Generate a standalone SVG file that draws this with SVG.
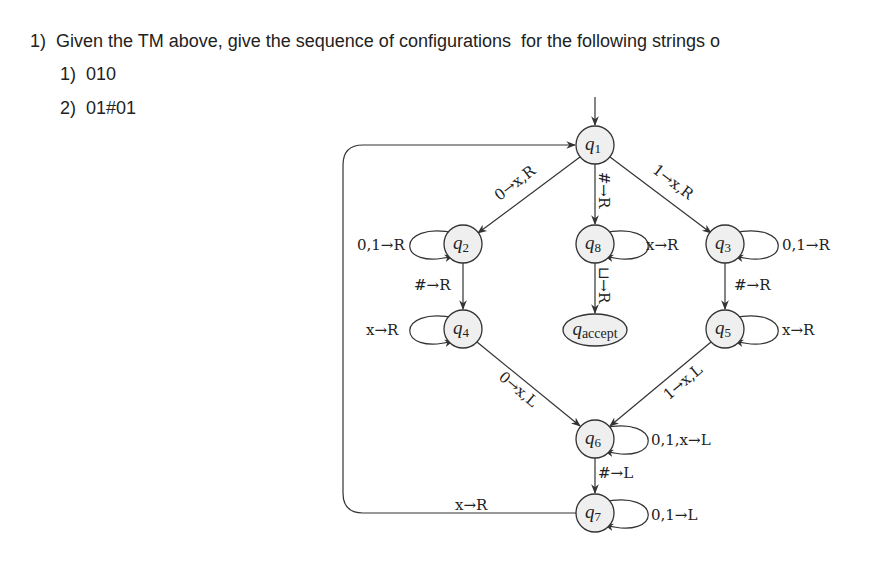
<svg xmlns="http://www.w3.org/2000/svg" width="878" height="569" viewBox="0 0 878 569">
<style>
.n{fill:#efefef;stroke:#333;stroke-width:1.3}
.t{font-family:"DejaVu Serif",serif;font-size:15px;fill:#222}
.s{font-family:"Liberation Serif",serif;font-size:19px;font-style:italic;fill:#222;text-anchor:middle}
.h{font-family:"Liberation Sans",sans-serif;font-size:18px;fill:#222}
.e{fill:none;stroke:#333;stroke-width:1.2;marker-end:url(#a)}
</style>
<defs><marker id="a" viewBox="0 0 10 10" refX="9" refY="5" markerWidth="8" markerHeight="8" orient="auto"><path d="M0,1 L10,5 L0,9 L3,5 Z" fill="#333"/></marker></defs>
<rect width="878" height="569" fill="#fff"/>
<text class="h" x="30" y="47" xml:space="preserve">1)  Given the TM above, give the sequence of configurations  for the following strings o</text>
<text class="h" x="60" y="80" xml:space="preserve">1)  010</text>
<text class="h" x="60" y="114" xml:space="preserve">2)  01#01</text>
<g id="connectors">
<path class="e" d="M595,97 V125"/>
<path class="e" d="M580,157 L478,233"/>
<path class="e" d="M610,157 L711,233"/>
<path class="e" d="M595,164 V224"/>
<path class="e" d="M463,263 V309"/>
<path class="e" d="M725,263 V309"/>
<path class="e" d="M595,263 V313"/>
<path class="e" d="M477,342 L580,426"/>
<path class="e" d="M711,342 L610,426"/>
<path class="e" d="M595,458 V493"/>
<path class="e" d="M576,513 H363 Q343,513 343,493 V165 Q343,145 363,145 H575"/>
<path class="e" d="M455,233 C395,220 395,272 453,256"/>
<path class="e" d="M455,318 C395,305 395,357 453,341"/>
<path class="e" d="M603,233 C663,220 663,272 605,256"/>
<path class="e" d="M733,233 C793,220 793,272 735,256"/>
<path class="e" d="M733,318 C793,305 793,357 735,341"/>
<path class="e" d="M603,428 C663,415 663,467 605,451"/>
<path class="e" d="M603,502 C663,489 663,541 605,525"/>
</g>
<g id="labels">
<text class="t" x="518" y="187" text-anchor="middle" transform="rotate(-37.8 518 187)">0→x,R</text>
<text class="t" x="670" y="186" text-anchor="middle" transform="rotate(37.3 670 186)">1→x,R</text>
<text class="t" x="599" y="190" text-anchor="middle" transform="rotate(90 599 190)">#→R</text>
<text class="t" x="599" y="285" text-anchor="middle" transform="rotate(90 599 285)">⊔→R</text>
<text class="t" x="515" y="393" text-anchor="middle" transform="rotate(40 515 393)">0→x,L</text>
<text class="t" x="686" y="386" text-anchor="middle" transform="rotate(-40 686 386)">1→x,L</text>
<text class="t" x="357" y="250">0,1→R</text>
<text class="t" x="414" y="290">#→R</text>
<text class="t" x="366" y="335">x→R</text>
<text class="t" x="646" y="250">x→R</text>
<text class="t" x="782" y="250">0,1→R</text>
<text class="t" x="734" y="290">#→R</text>
<text class="t" x="782" y="335">x→R</text>
<text class="t" x="651" y="445">0,1,x→L</text>
<text class="t" x="598" y="478">#→L</text>
<text class="t" x="455" y="510">x→R</text>
<text class="t" x="651" y="520">0,1→L</text>
</g>
<g id="q1"><circle class="n" cx="595" cy="145" r="19"/><text class="s" x="593" y="150">q<tspan font-size="13" font-style="normal" dy="3">1</tspan></text></g>
<g id="q2"><circle class="n" cx="463" cy="244" r="19"/><text class="s" x="461" y="249">q<tspan font-size="13" font-style="normal" dy="3">2</tspan></text></g>
<g id="q8"><circle class="n" cx="595" cy="244" r="19"/><text class="s" x="593" y="249">q<tspan font-size="13" font-style="normal" dy="3">8</tspan></text></g>
<g id="q3"><circle class="n" cx="725" cy="244" r="19"/><text class="s" x="723" y="249">q<tspan font-size="13" font-style="normal" dy="3">3</tspan></text></g>
<g id="q4"><circle class="n" cx="463" cy="329" r="19"/><text class="s" x="461" y="334">q<tspan font-size="13" font-style="normal" dy="3">4</tspan></text></g>
<g id="qaccept"><ellipse class="n" cx="595" cy="330" rx="32" ry="16"/><text class="s" x="595" y="335">q<tspan font-size="14" font-style="normal" dy="3">accept</tspan></text></g>
<g id="q5"><circle class="n" cx="725" cy="329" r="19"/><text class="s" x="723" y="334">q<tspan font-size="13" font-style="normal" dy="3">5</tspan></text></g>
<g id="q6"><circle class="n" cx="595" cy="439" r="19"/><text class="s" x="593" y="444">q<tspan font-size="13" font-style="normal" dy="3">6</tspan></text></g>
<g id="q7"><circle class="n" cx="595" cy="513" r="19"/><text class="s" x="593" y="518">q<tspan font-size="13" font-style="normal" dy="3">7</tspan></text></g>
</svg>
